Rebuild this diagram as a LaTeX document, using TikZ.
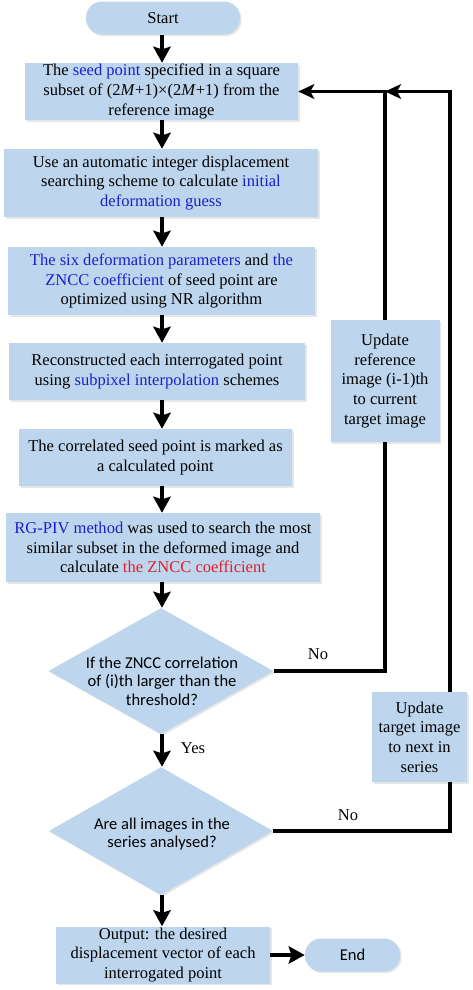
\documentclass[tikz,border=0pt]{standalone}
\usepackage{fontspec}
\setmainfont{Liberation Serif}
\newfontfamily\timesfont{Liberation Serif}
\newfontfamily\calibri{Carlito}
\usetikzlibrary{shapes.geometric,shadows,arrows.meta}
\definecolor{boxblue}{RGB}{189,214,238}
\definecolor{kwblue}{RGB}{30,30,200}
\definecolor{kwred}{RGB}{225,30,40}

\begin{document}
\begin{tikzpicture}[x=0.75pt,y=-0.75pt,
		procbox/.style={fill=boxblue, inner sep=0pt, align=center,
			drop shadow={shadow xshift=1.2pt, shadow yshift=-1.2pt, opacity=0.2},
			font=\timesfont\fontsize{12.4}{14.7}\selectfont},
		termbox/.style={procbox, rounded corners=12pt},
		decision/.style={diamond, fill=boxblue, inner sep=0pt,
			drop shadow={shadow xshift=1.2pt, shadow yshift=-1.2pt, opacity=0.2}},
		dectext/.style={align=center, font=\calibri\fontsize{12.4}{14}\selectfont},
		flow/.style={line width=3.4pt, -{Stealth[length=12pt,width=13pt,inset=2pt]}},
		loopline/.style={line width=2.9pt},
		looparrow/.style={loopline, -{Stealth[length=12pt,width=11pt,inset=3pt]}},
		lab/.style={font=\timesfont\fontsize{12.4}{14.7}\selectfont}]
		\useasboundingbox (0,0) rectangle (473,990);
		
		% main column
		\coordinate (col) at (162,0);
		\node[termbox, minimum width=115.5pt, minimum height=24.75pt] (start) at (163,18) {Start};
		\node[procbox, minimum width=204.75pt, minimum height=42.75pt] (s1) at (161.5,91.5)
			{The \textcolor{kwblue}{seed point} specified in a square\\ subset of (2\textit{M}+1)×(2\textit{M}+1) from the\\ reference image};
		\node[procbox, minimum width=235.5pt, minimum height=51pt] (s2) at (161,183)
			{Use an automatic integer displacement\\ searching scheme to calculate \textcolor{kwblue}{initial}\\ \textcolor{kwblue}{deformation guess}};
		\node[procbox, minimum width=230.25pt, minimum height=51pt] (s3) at (161.5,281)
			{\textcolor{kwblue}{The six deformation parameters} and \textcolor{kwblue}{the}\\ \textcolor{kwblue}{ZNCC coefficient} of seed point are\\ optimized using NR algorithm};
		\node[procbox, minimum width=222pt, minimum height=42.75pt] (s4) at (157,371.5)
			{Reconstructed each interrogated point\\ using \textcolor{kwblue}{subpixel interpolation} schemes};
		\node[procbox, minimum width=204.75pt, minimum height=42.75pt] (s5) at (155.5,457.5)
			{The correlated seed point is marked as\\ a calculated point};
		\node[procbox, minimum width=235.5pt, minimum height=51.75pt] (s6) at (163,547.5)
			{\textcolor{kwblue}{RG-PIV method} was used to search the most\\ similar subset in the deformed image and\\ calculate \textcolor{kwred}{the ZNCC coefficient}};
		
		% decisions
		\node[decision, minimum width=168.75pt, minimum height=94.5pt] (d1) at (161,671) {};
		\node[dectext] (t1) at (162,681) {If the ZNCC correlation\\ of (i)th larger than the\\ threshold?};
		\node[decision, minimum width=168pt, minimum height=96pt] (d2) at (161,831) {};
		\node[dectext] (t2) at (162,834) {Are all images in the\\ series analysed?};
		
		% output and end
		\node[procbox, minimum width=160.5pt, minimum height=42.75pt] (out) at (163,955)
			{Output: the desired\\ displacement vector of each\\ interrogated point};
		\node[termbox, minimum width=71.25pt, minimum height=24.75pt, font=\calibri\fontsize{12.4}{14.7}\selectfont] (end) at (352.5,955) {End};
		
		% update boxes
		\node[procbox, minimum width=81.75pt, minimum height=91.5pt] (ur) at (385,381)
			{Update\\ reference\\ image (i-1)th\\ to current\\ target image};
		\node[procbox, minimum width=71.25pt, minimum height=67.5pt] (ut) at (419.5,737)
			{Update\\ target image\\ to next in\\ series};
		\coordinate (rail) at (450,91.5);
		
		% main arrows
		\draw[flow] (col |- start.south) -- (col |- s1.north);
		\draw[flow] (col |- s1.south) -- (col |- s2.north);
		\draw[flow] (col |- s2.south) -- (col |- s3.north);
		\draw[flow] (col |- s3.south) -- (col |- s4.north);
		\draw[flow] (col |- s4.south) -- (col |- s5.north);
		\draw[flow] (col |- s5.south) -- (col |- s6.north);
		\draw[flow] (col |- s6.south) -- (col |- d1.north);
		\draw[flow] (col |- d1.south) -- (col |- d2.north);
		\draw[flow] (col |- d2.south) -- (col |- out.north);
		\draw[flow] (out.east) -- (end.west);
		
		% feedback loops
		\draw[loopline] (d1.east) -| (ur.south);
		\draw[looparrow] (ur.north) |- (s1.east);
		\draw[loopline] (d2.east) -| (rail |- ut.south);
		\draw[looparrow] (rail |- ut.north) -- (rail) -- (ur.north |- rail);
		
		% labels
		\node[lab] (no1) at (318,654) {No};
		\node[lab] (no2) at (348,815) {No};
		\node[lab] (yes) at (193,748) {Yes};
	\end{tikzpicture}
\end{document}
